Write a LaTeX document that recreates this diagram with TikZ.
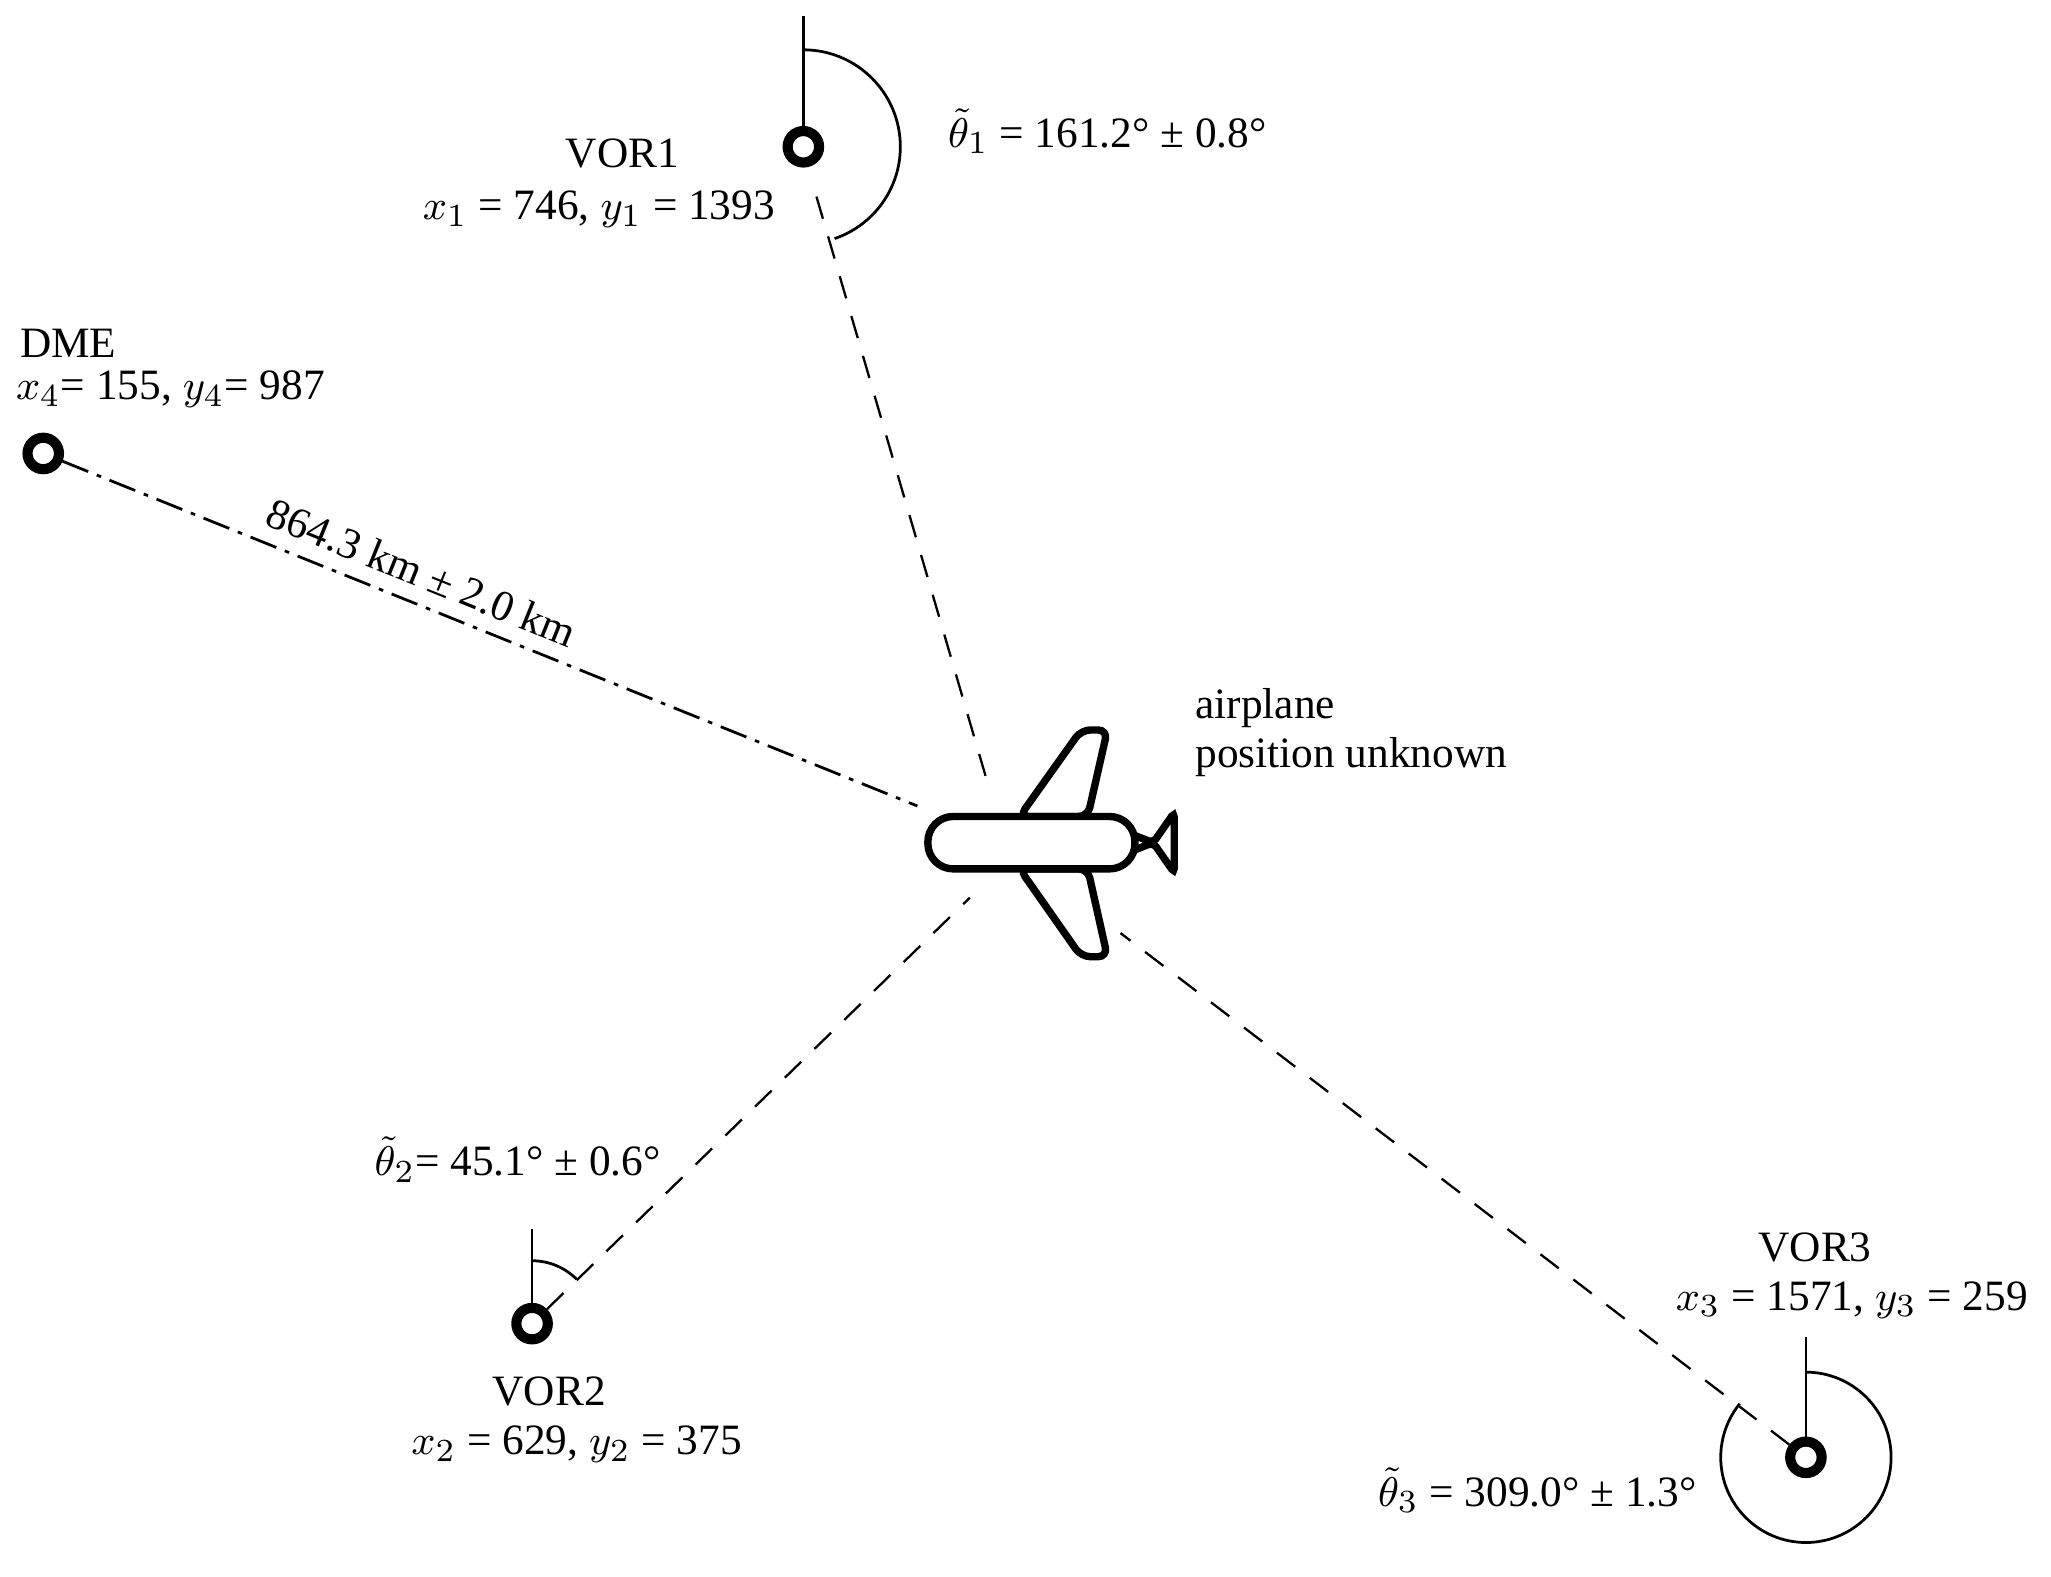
\documentclass[tikz,border=0pt]{standalone}
\usepackage{fontspec}
\setmainfont{Liberation Serif}
\begin{document}
\begin{tikzpicture}[x=0.01cm,y=-0.01cm,
  stn/.style={circle,draw,line width=2.2pt,minimum size=0.24cm,inner sep=0pt},
  lbl/.style={font=\fontsize{9.4}{11}\selectfont,inner sep=1pt},
  brg/.style={dashed,dash pattern=on 5pt off 4pt,line width=0.5pt},
  thin/.style={line width=0.6pt}]
\useasboundingbox (0,0) rectangle (1565,1203);
% stations
\node[stn] (v1) at (613,112) {};
\node[stn] (v2) at (406,1010) {};
\node[stn] (v3) at (1378,1112) {};
\node[stn] (d) at (33,346) {};
\coordinate (n1) at (613,12);
\coordinate (n2) at (406,938);
\coordinate (n3) at (1378,1020);
\draw[thin] (v1) -- (n1);
\draw[thin] (v2) -- (n2);
\draw[thin] (v3) -- (n3);
\draw[thin] (613,38) arc[start angle=-90,end angle=71.2,radius=74];
\draw[thin] (406,962) arc[start angle=-90,end angle=-44.9,radius=48];
\draw[thin] (1378,1047) arc[start angle=-90,end angle=219,radius=65];
% labels
\node[lbl] at (475,117) {VOR1};
\node[lbl] at (457,160) {$x_1$ = 746, $y_1$ = 1393};
\node[lbl] at (845,100) {$\tilde\theta_1$ = 161.2° ± 0.8°};
\node[lbl] at (52,262) {DME};
\node[lbl] at (130,297) {$x_4$= 155, $y_4$= 987};
\node[lbl] at (395,885) {$\tilde\theta_2$= 45.1° ± 0.6°};
\node[lbl] at (419,1062) {VOR2};
\node[lbl] at (440,1102) {$x_2$ = 629, $y_2$ = 375};
\node[lbl] at (1385,952) {VOR3};
\node[lbl] at (1413,992) {$x_3$ = 1571, $y_3$ = 259};
\node[lbl] at (1173,1137) {$\tilde\theta_3$ = 309.0° ± 1.3°};
\node[lbl,anchor=west] at (908,540) {airplane};
\node[lbl,anchor=west] at (908,578) {position unknown};
\node[lbl,rotate=-22] at (322,437) {864.3 km ± 2.0 km};
% airplane
\coordinate (a1) at (752,592);
\coordinate (a2) at (740,685);
\coordinate (a3) at (855,712);
\coordinate (a4) at (700,615);
\draw[line width=1.6pt,rounded corners=2pt,fill=white]
  (778,623) -- (825,557) -- (845,557) -- (830,623) -- cycle;
\draw[line width=1.6pt,rounded corners=2pt,fill=white]
  (778,663) -- (825,730) -- (845,730) -- (830,663) -- cycle;
\draw[line width=1.6pt,rounded corners=1pt,fill=white]
  (862,636) -- (880,643) -- (896,620) -- (896,666) -- (880,643) -- (862,650);
\draw[line width=1.6pt,fill=white,rounded corners=5.5pt] (708,623) rectangle (866,663);
% bearings
\draw[brg] (v1) ++(10,38) -- (a1);
\draw[brg] (v2) -- (a2);
\draw[brg] (v3) -- (a3);
\draw[thin,dash pattern=on 6pt off 2pt on 1pt off 2pt] (d) -- (a4);
\end{tikzpicture}
\end{document}
